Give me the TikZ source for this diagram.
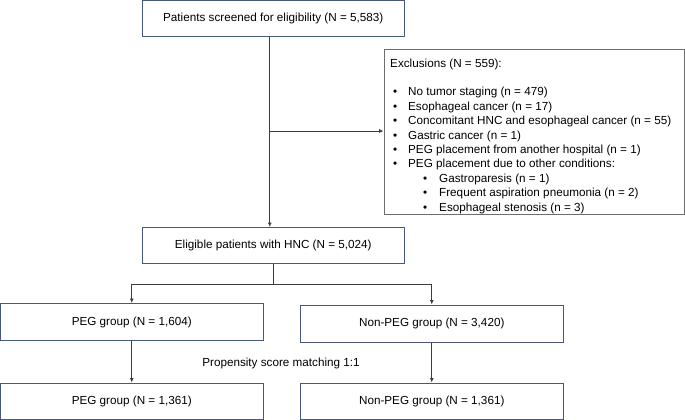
\documentclass[tikz,border=0pt]{standalone}
\usepackage{fontspec}
\setmainfont{Liberation Sans}
\usetikzlibrary{arrows.meta,calc}
\definecolor{boxblue}{RGB}{72,88,120}
\definecolor{boxgray}{RGB}{110,110,110}
\definecolor{linegray}{RGB}{60,60,60}
\tikzset{
  flowbox/.style={draw=boxblue, line width=1pt, rectangle, inner sep=0pt, align=center,
     font=\fontsize{11.7}{14.4}\selectfont},
  exbox/.style={draw=boxgray, line width=1pt, rectangle, inner sep=0pt, anchor=north west},
  extext/.style={inner sep=0pt, align=left, anchor=north west, font=\fontsize{11.7}{14.4}\selectfont},
  arr/.style={draw=linegray, line width=0.8pt, -{Latex[length=4.5pt,width=4pt]}},
  ln/.style={draw=linegray, line width=0.8pt},
  lbl/.style={font=\fontsize{11.7}{14.4}\selectfont}
}
\newcommand{\bitem}[1]{\hspace*{3pt}\makebox[15pt][l]{•}#1}
\newcommand{\sitem}[1]{\hspace*{33pt}\makebox[16pt][l]{•}#1}
\begin{document}
\begin{tikzpicture}[x=1pt,y=-1pt]
\useasboundingbox (0,0) rectangle (685,420);
\node[flowbox, minimum width=262.5pt, minimum height=35.5pt] (top) at (273.25,18.5) {Patients screened for eligibility (N = 5,583)};
\node[exbox, minimum width=300.5pt, minimum height=164.5pt] (excl) at (383.5,49.5) {};
\node[extext] (extxt) at (390,58.4) {%
Exclusions (N = 559):\\[14.4pt]
\bitem{No tumor staging (n = 479)}\\
\bitem{Esophageal cancer (n = 17)}\\
\bitem{Concomitant HNC and esophageal cancer (n = 55)}\\
\bitem{Gastric cancer (n = 1)}\\
\bitem{PEG placement from another hospital (n = 1)}\\
\bitem{PEG placement due to other conditions:}\\
\sitem{Gastroparesis (n = 1)}\\
\sitem{Frequent aspiration pneumonia (n = 2)}\\
\sitem{Esophageal stenosis (n = 3)}};
\node[flowbox, minimum width=262.5pt, minimum height=35.5pt] (elig) at (273.25,245.25) {Eligible patients with HNC (N = 5,024)};
\node[flowbox, minimum width=262.5pt, minimum height=37pt] (peg1) at (131.75,322) {PEG group (N = 1,604)};
\node[flowbox, minimum width=262.5pt, minimum height=37pt] (npeg1) at (431.75,323.5) {Non-PEG group (N = 3,420)};
\node[flowbox, minimum width=262.5pt, minimum height=36pt] (peg2) at (131.75,401) {PEG group (N = 1,361)};
\node[flowbox, minimum width=262.5pt, minimum height=36pt] (npeg2) at (431.75,401) {Non-PEG group (N = 1,361)};
\node[lbl] (psm) at (281,363) {Propensity score matching 1:1};
% connectors
\coordinate (tdown) at ([xshift=-3.5pt]top.south);
\coordinate (edown) at ([xshift=-3.5pt]elig.north);
\coordinate (split) at ($(elig.south)+(0,21)$);
\draw[arr] (tdown) -- (edown);
\draw[arr] (tdown |- 0,131) -- (excl.west |- 0,131);
\draw[ln] (elig.south) -- (split);
\draw[arr] (split) -| (peg1.north);
\draw[arr] (split) -| (npeg1.north);
\draw[arr] (peg1.south) -- (peg2.north);
\draw[arr] (npeg1.south) -- (npeg2.north);
\end{tikzpicture}
\end{document}
